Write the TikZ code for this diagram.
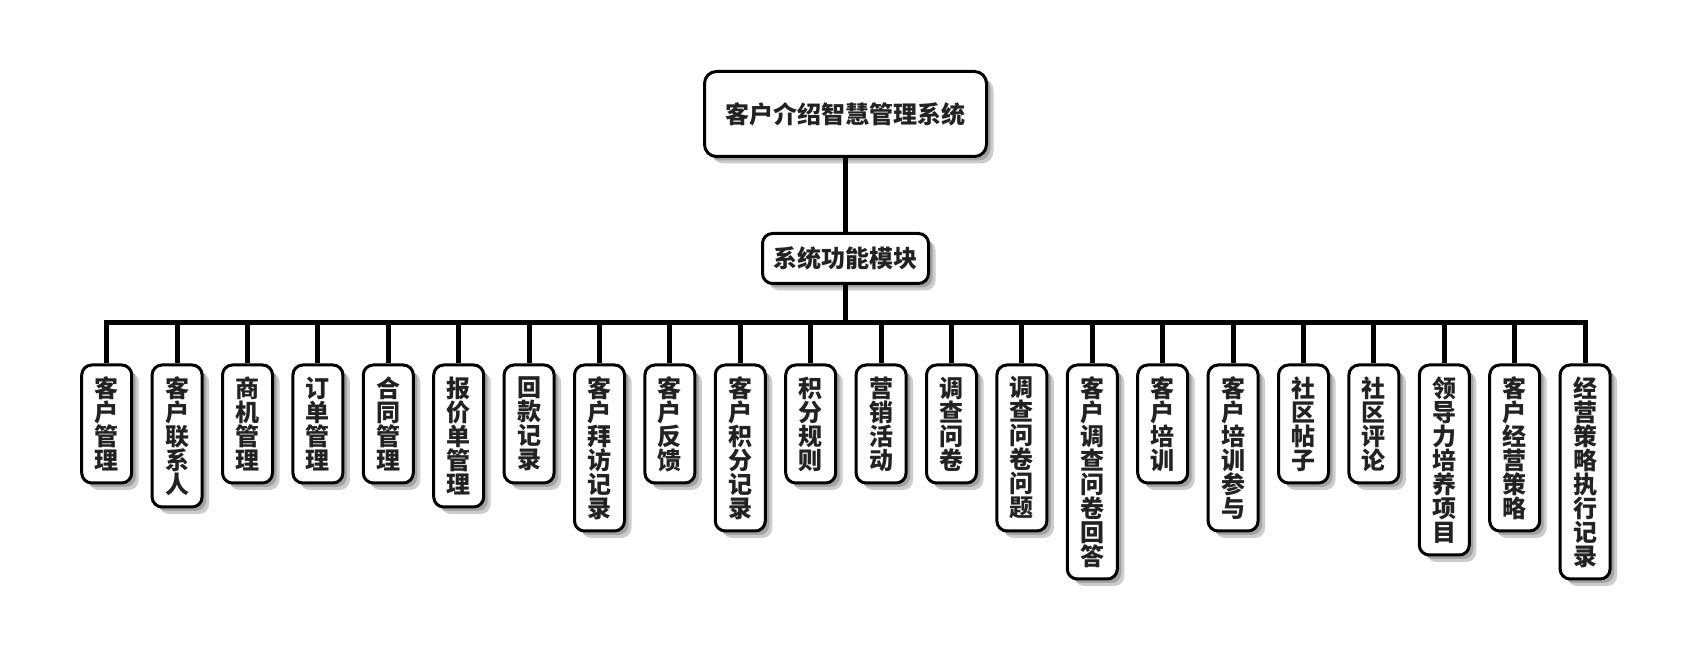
\documentclass[tikz,border=0pt]{standalone}
\usepackage{fontspec}
\setmainfont{Noto Sans CJK SC}
\usetikzlibrary{shadows}
\definecolor{labelgray}{HTML}{222222}
\tikzset{
  box/.style={draw=black, line width=1.5pt, fill=white, rounded corners=5pt,
    text=labelgray, font=\bfseries\fontsize{12}{12}\selectfont, inner sep=0pt,
    drop shadow={shadow xshift=2pt, shadow yshift=-2pt, fill=black, opacity=0.2},
    drop shadow={shadow xshift=3.5pt, shadow yshift=-3.5pt, fill=black, opacity=0.2}},
  leafbox/.style={box, anchor=north, minimum width=25pt, align=center},
  link/.style={line width=2.5pt}
}

\begin{document}
\begin{tikzpicture}[x=0.5pt, y=-0.5pt]
  \useasboundingbox (0,0) rectangle (1691,656);
  \node[box, rounded corners=6pt, minimum width=141pt, minimum height=42.5pt] (sys) at (845.5,114) {客户介绍智慧管理系统};
  \node[box, minimum width=83pt, minimum height=25pt] (mod) at (845.5,258.5) {系统功能模块};
  \coordinate (bus) at (845.5,323);
  \draw[link] (sys) -- (mod);
  \draw[link] (mod) -- (bus);
  \foreach \lbl/\n [count=\i from 0] in {
      客\\户\\管\\理/4, 客\\户\\联\\系\\人/5, 商\\机\\管\\理/4, 订\\单\\管\\理/4,
      合\\同\\管\\理/4, 报\\价\\单\\管\\理/5, 回\\款\\记\\录/4, 客\\户\\拜\\访\\记\\录/6,
      客\\户\\反\\馈/4, 客\\户\\积\\分\\记\\录/6, 积\\分\\规\\则/4, 营\\销\\活\\动/4,
      调\\查\\问\\卷/4, 调\\查\\问\\卷\\问\\题/6, 客\\户\\调\\查\\问\\卷\\回\\答/8,
      客\\户\\培\\训/4, 客\\户\\培\\训\\参\\与/6, 社\\区\\帖\\子/4, 社\\区\\评\\论/4,
      领\\导\\力\\培\\养\\项\\目/7, 客\\户\\经\\营\\策\\略/6, 经\\营\\策\\略\\执\\行\\记\\录/8} {
    \pgfmathsetmacro\h{11+12*\n}
    \node[leafbox, minimum height=\h pt] (leaf\i) at ({106.7+70.4*\i},363.5) {\lbl};
    \draw[link] (bus) -| (leaf\i.north);
  }
\end{tikzpicture}
\end{document}
